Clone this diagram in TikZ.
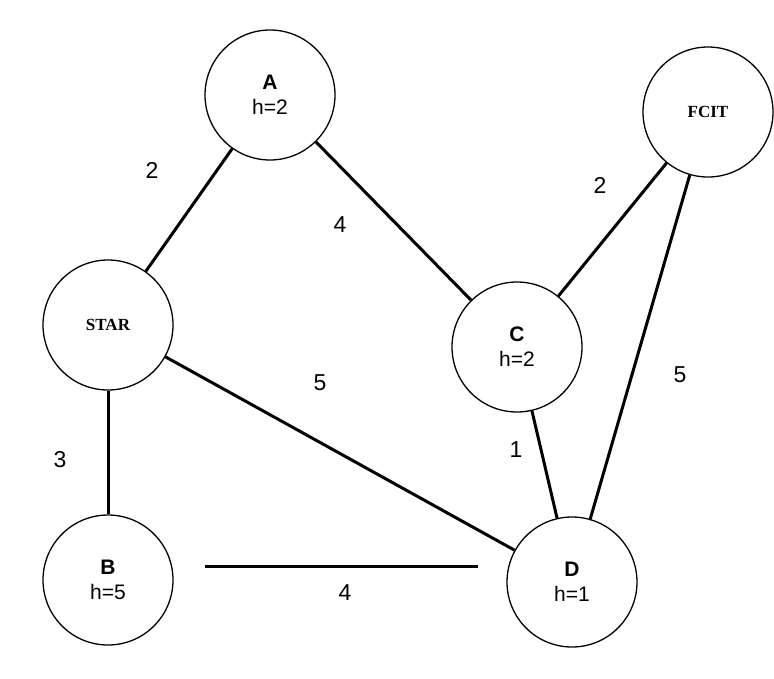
\documentclass[tikz,border=0pt]{standalone}
\usepackage{fontspec}
\setmainfont{Liberation Sans}
\newfontfamily\serifb{Liberation Serif}
\begin{document}
\begin{tikzpicture}[x=1pt,y=-1pt,
  st/.style={circle,draw,line width=1.3pt,minimum size=130pt,inner sep=0pt,align=center,font=\fontsize{21}{25}\selectfont,fill=white},
  sn/.style={st,font=\serifb\bfseries\fontsize{17}{19}\selectfont},
  ed/.style={line width=3pt},
  lb/.style={font=\fontsize{23}{25}\selectfont}]
\useasboundingbox (0,0) rectangle (774,678);
\node[st] (A) at (270,95) {\textbf{A}\\h=2};
\node[sn] (F) at (708,112) {FCIT};
\node[sn] (S) at (108,325) {STAR};
\node[st] (C) at (517,347) {\textbf{C}\\h=2};
\node[st] (B) at (108,580) {\textbf{B}\\h=5};
\node[st] (D) at (572,582) {\textbf{D}\\h=1};
\coordinate (b1) at (205,566);
\coordinate (b2) at (478,566);
\draw[ed] (A) -- (S);
\draw[ed] (A) -- (C);
\draw[ed] (F) -- (C);
\draw[ed] (F) -- (D);
\draw[ed] (S) -- (D);
\draw[ed] (S) -- (B);
\draw[ed] (C) -- (D);
\draw[ed] (b1) -- (b2);
\node[lb] (l1) at (152,170) {2};
\node[lb] (l2) at (340,225) {4};
\node[lb] (l3) at (600,185) {2};
\node[lb] (l4) at (320,383) {5};
\node[lb] (l5) at (680,375) {5};
\node[lb] (l6) at (60,460) {3};
\node[lb] (l7) at (516,450) {1};
\node[lb] (l8) at (345,593) {4};
\end{tikzpicture}
\end{document}
